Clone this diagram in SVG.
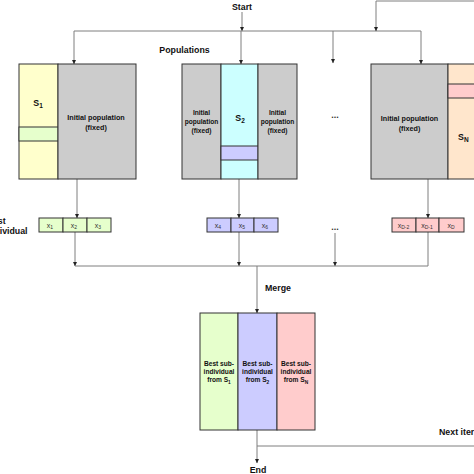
<svg xmlns="http://www.w3.org/2000/svg" width="474" height="474" viewBox="0 0 474 474">
<style>
.lbl{font-family:"Liberation Sans",Arial,sans-serif;font-weight:bold;fill:#111;}
.t9{font-size:8.8px;}
.t7{font-size:7.2px;}
.t6{font-size:6.6px;}
.x{font-family:"Liberation Sans",Arial,sans-serif;font-size:7px;fill:#333;text-anchor:middle;}
.c{text-anchor:middle;}
.bx{stroke:#333;stroke-width:1;}
.con{fill:none;stroke:#7f7f7f;stroke-width:1;}
.arr{marker-end:url(#ah);}
.dots{font-family:"Liberation Sans",Arial,sans-serif;font-size:9px;font-weight:bold;fill:#333;text-anchor:middle;}
</style>
<defs>
<marker id="ah" markerUnits="userSpaceOnUse" markerWidth="5" markerHeight="5" refX="4.5" refY="2.5" orient="auto">
<path d="M0,0.3 L4.8,2.5 L0,4.7 z" fill="#222"/>
</marker>
</defs>
<rect width="474" height="474" fill="#fff"/>

<text class="lbl t9 c" x="242" y="10">Start</text>
<text class="lbl t9 c" x="184.5" y="53">Populations</text>
<text class="lbl t9" x="-13.5" y="224">Best</text>
<text class="lbl t9" x="-13.5" y="234">individual</text>
<text class="lbl t9" x="265" y="291">Merge</text>
<text class="lbl t9 c" x="258" y="473">End</text>
<text class="lbl t9" x="439" y="435">Next iter</text>

<g id="connectors">
<line class="con arr" x1="242" y1="12" x2="242" y2="31"/>
<line class="con" x1="74" y1="31" x2="421" y2="31"/>
<line class="con arr" x1="74" y1="31" x2="74" y2="64"/>
<line class="con arr" x1="241" y1="31" x2="241" y2="64"/>
<line class="con arr" x1="333" y1="31" x2="333" y2="63"/>
<line class="con arr" x1="421" y1="31" x2="421" y2="64"/>
<polyline class="con arr" points="475,1 376,1 376,31"/>
<line class="con arr" x1="77" y1="179" x2="77" y2="218"/>
<line class="con arr" x1="239" y1="179" x2="239" y2="218"/>
<line class="con arr" x1="428" y1="179" x2="428" y2="218"/>
<line class="con arr" x1="75" y1="232" x2="75" y2="266"/>
<line class="con arr" x1="239" y1="232" x2="239" y2="266"/>
<line class="con arr" x1="335" y1="233" x2="335" y2="266"/>
<line class="con" x1="428" y1="232" x2="428" y2="266"/>
<line class="con" x1="75" y1="266" x2="428" y2="266"/>
<line class="con arr" x1="257" y1="266" x2="257" y2="313"/>
<line class="con arr" x1="257" y1="430" x2="257" y2="463"/>
<line class="con" x1="257" y1="446" x2="475" y2="446"/>
</g>

<g id="pop1">
<rect class="bx" x="19" y="64" width="39" height="115" fill="#ffffcc"/>
<rect class="bx" x="19" y="127" width="39" height="14" fill="#e6ffcc"/>
<rect class="bx" x="58" y="64" width="78" height="115" fill="#cccccc"/>
<text class="lbl t9 c" x="38" y="106">S<tspan font-size="6.5" dy="2">1</tspan></text>
<text class="lbl t7 c" x="96" y="120">Initial population</text>
<text class="lbl t7 c" x="96" y="130">(fixed)</text>
</g>

<g id="pop2">
<rect class="bx" x="182" y="64" width="39" height="115" fill="#cccccc"/>
<rect class="bx" x="221" y="64" width="37" height="115" fill="#ccffff"/>
<rect class="bx" x="221" y="146" width="37" height="14" fill="#ccccff"/>
<rect class="bx" x="258" y="64" width="39" height="115" fill="#cccccc"/>
<text class="lbl t9 c" x="240" y="121">S<tspan font-size="6.5" dy="2">2</tspan></text>
<text class="lbl t6 c" x="201.5" y="115">Initial</text>
<text class="lbl t6 c" x="201.5" y="124">population</text>
<text class="lbl t6 c" x="201.5" y="133">(fixed)</text>
<text class="lbl t6 c" x="277.5" y="115">Initial</text>
<text class="lbl t6 c" x="277.5" y="124">population</text>
<text class="lbl t6 c" x="277.5" y="133">(fixed)</text>
</g>

<g id="dots">
<text class="dots" x="335" y="118">...</text>
<text class="dots" x="335" y="230">...</text>
</g>

<g id="popN">
<rect class="bx" x="371" y="64" width="77" height="115" fill="#cccccc"/>
<rect class="bx" x="448" y="64" width="40" height="115" fill="#ffe6cc"/>
<rect class="bx" x="448" y="84" width="40" height="14" fill="#ffcccc"/>
<text class="lbl t7 c" x="409.5" y="121">Initial population</text>
<text class="lbl t7 c" x="409.5" y="131">(fixed)</text>
<text class="lbl t9" x="458" y="140">S<tspan font-size="6.5" dy="2">N</tspan></text>
</g>

<g id="best1">
<rect class="bx" x="39" y="218" width="24" height="14" fill="#e6ffcc"/>
<rect class="bx" x="63" y="218" width="24" height="14" fill="#e6ffcc"/>
<rect class="bx" x="87" y="218" width="24" height="14" fill="#e6ffcc"/>
<text class="x" x="50" y="227.5">x<tspan font-size="5" dy="1.5">1</tspan></text>
<text class="x" x="74" y="227.5">x<tspan font-size="5" dy="1.5">2</tspan></text>
<text class="x" x="98" y="227.5">x<tspan font-size="5" dy="1.5">3</tspan></text>
</g>

<g id="best2">
<rect class="bx" x="207" y="218" width="24" height="14" fill="#ccccff"/>
<rect class="bx" x="231" y="218" width="23" height="14" fill="#ccccff"/>
<rect class="bx" x="254" y="218" width="24" height="14" fill="#ccccff"/>
<text class="x" x="218" y="227.5">x<tspan font-size="5" dy="1.5">4</tspan></text>
<text class="x" x="242" y="227.5">x<tspan font-size="5" dy="1.5">5</tspan></text>
<text class="x" x="265" y="227.5">x<tspan font-size="5" dy="1.5">6</tspan></text>
</g>

<g id="bestN">
<rect class="bx" x="392" y="218" width="24" height="14" fill="#ffcccc"/>
<rect class="bx" x="416" y="218" width="23" height="14" fill="#ffcccc"/>
<rect class="bx" x="439" y="218" width="25" height="14" fill="#ffcccc"/>
<text class="x" x="403.5" y="227.5">x<tspan font-size="5" dy="1.5">D-2</tspan></text>
<text class="x" x="427" y="227.5">x<tspan font-size="5" dy="1.5">D-1</tspan></text>
<text class="x" x="451" y="227.5">x<tspan font-size="5" dy="1.5">D</tspan></text>
</g>

<g id="merged">
<rect class="bx" x="200" y="313" width="38" height="117" fill="#e6ffcc"/>
<rect class="bx" x="238" y="313" width="39" height="117" fill="#ccccff"/>
<rect class="bx" x="277" y="313" width="38" height="117" fill="#ffcccc"/>
<text class="lbl t6 c" x="219" y="366">Best sub-</text>
<text class="lbl t6 c" x="219" y="374">individual</text>
<text class="lbl t6 c" x="219" y="382">from S<tspan font-size="4.8" dy="1.5">1</tspan></text>
<text class="lbl t6 c" x="257.5" y="366">Best sub-</text>
<text class="lbl t6 c" x="257.5" y="374">individual</text>
<text class="lbl t6 c" x="257.5" y="382">from S<tspan font-size="4.8" dy="1.5">2</tspan></text>
<text class="lbl t6 c" x="296" y="366">Best sub-</text>
<text class="lbl t6 c" x="296" y="374">individual</text>
<text class="lbl t6 c" x="296" y="382">from S<tspan font-size="4.8" dy="1.5">N</tspan></text>
</g>
</svg>
